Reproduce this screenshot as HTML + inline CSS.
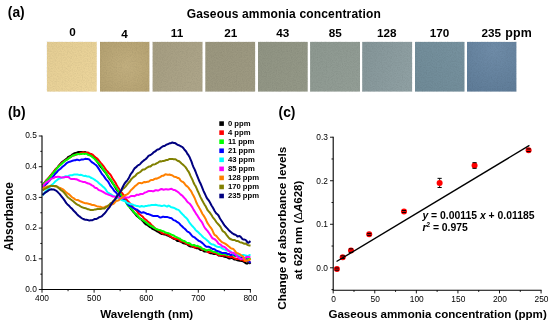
<!DOCTYPE html>
<html lang="en"><head><meta charset="utf-8"><title>Gaseous ammonia concentration figure</title>
<style>html,body{margin:0;padding:0;background:#fff}svg{display:block}text{font-family:"Liberation Sans", sans-serif;fill:#000}.b{font-weight:bold}.i{font-style:italic}</style></head><body>
<svg width="550" height="331" viewBox="0 0 550 331">
<rect width="550" height="331" fill="#fff"/>
<defs>
<filter id="grain" x="0" y="0" width="100%" height="100%" color-interpolation-filters="sRGB"><feTurbulence type="fractalNoise" baseFrequency="0.8" numOctaves="2" seed="11" result="n"/><feColorMatrix in="n" type="matrix" values="0 0 0 0 0  0 0 0 0 0  0 0 0 0 0  0.07 0.07 0.07 0 -0.088"/></filter>
<linearGradient id="g0" x1="0" y1="0" x2="1" y2="1"><stop offset="0" stop-color="rgb(228,205,147)"/><stop offset="1" stop-color="rgb(237,214,156)"/></linearGradient>
<radialGradient id="g1" cx="0.55" cy="0.5" r="0.75"><stop offset="0" stop-color="rgb(194,175,127)"/><stop offset="1" stop-color="rgb(179,160,112)"/></radialGradient>
<linearGradient id="g2" x1="0" y1="0" x2="1" y2="0.6"><stop offset="0" stop-color="rgb(165,157,129)"/><stop offset="1" stop-color="rgb(173,165,137)"/></linearGradient>
<linearGradient id="g3" x1="0" y1="0" x2="1" y2="1"><stop offset="0" stop-color="rgb(154,150,126)"/><stop offset="1" stop-color="rgb(158,154,130)"/></linearGradient>
<linearGradient id="g4" x1="0" y1="0" x2="1" y2="1"><stop offset="0" stop-color="rgb(144,148,131)"/><stop offset="1" stop-color="rgb(148,152,135)"/></linearGradient>
<linearGradient id="g5" x1="0" y1="0" x2="1" y2="1"><stop offset="0" stop-color="rgb(141,152,144)"/><stop offset="1" stop-color="rgb(147,158,150)"/></linearGradient>
<linearGradient id="g6" x1="0" y1="0.3" x2="1" y2="0.6"><stop offset="0" stop-color="rgb(133,150,153)"/><stop offset="1" stop-color="rgb(143,160,163)"/></linearGradient>
<linearGradient id="g7" x1="0" y1="1" x2="1" y2="0"><stop offset="0" stop-color="rgb(111,138,151)"/><stop offset="1" stop-color="rgb(119,146,159)"/></linearGradient>
<radialGradient id="g8" cx="0.55" cy="0.15" r="0.95"><stop offset="0" stop-color="rgb(111,140,168)"/><stop offset="1" stop-color="rgb(95,124,152)"/></radialGradient>
</defs>
<text class="b" x="7.8" y="17.0" font-size="13.8">(a)</text>
<text class="b" x="283.8" y="17.8" font-size="12" letter-spacing="0.17" text-anchor="middle">Gaseous ammonia concentration</text>
<rect x="46.95" y="41.9" width="49.8" height="49.7" fill="url(#g0)"/>
<rect x="46.95" y="41.9" width="49.8" height="49.7" fill="#000" filter="url(#grain)"/>
<text class="b" x="72.4" y="35.9" font-size="11.7" text-anchor="middle">0</text>
<rect x="100.0" y="41.9" width="49.4" height="49.7" fill="url(#g1)"/>
<rect x="100.0" y="41.9" width="49.4" height="49.7" fill="#000" filter="url(#grain)"/>
<text class="b" x="124.6" y="37.9" font-size="11.7" text-anchor="middle">4</text>
<rect x="152.6" y="41.9" width="49.9" height="49.7" fill="url(#g2)"/>
<rect x="152.6" y="41.9" width="49.9" height="49.7" fill="#000" filter="url(#grain)"/>
<text class="b" x="177.0" y="37.3" font-size="11.7" text-anchor="middle">11</text>
<rect x="205.3" y="41.9" width="49.8" height="49.7" fill="url(#g3)"/>
<rect x="205.3" y="41.9" width="49.8" height="49.7" fill="#000" filter="url(#grain)"/>
<text class="b" x="230.8" y="37.3" font-size="11.7" text-anchor="middle">21</text>
<rect x="258.0" y="41.9" width="49.7" height="49.7" fill="url(#g4)"/>
<rect x="258.0" y="41.9" width="49.7" height="49.7" fill="#000" filter="url(#grain)"/>
<text class="b" x="282.8" y="37.3" font-size="11.7" text-anchor="middle">43</text>
<rect x="310.1" y="41.9" width="49.9" height="49.7" fill="url(#g5)"/>
<rect x="310.1" y="41.9" width="49.9" height="49.7" fill="#000" filter="url(#grain)"/>
<text class="b" x="335.3" y="37.3" font-size="11.7" text-anchor="middle">85</text>
<rect x="362.2" y="41.9" width="49.9" height="49.7" fill="url(#g6)"/>
<rect x="362.2" y="41.9" width="49.9" height="49.7" fill="#000" filter="url(#grain)"/>
<text class="b" x="386.8" y="37.3" font-size="11.7" text-anchor="middle">128</text>
<rect x="415.0" y="41.9" width="49.5" height="49.7" fill="url(#g7)"/>
<rect x="415.0" y="41.9" width="49.5" height="49.7" fill="#000" filter="url(#grain)"/>
<text class="b" x="439.6" y="37.3" font-size="11.7" text-anchor="middle">170</text>
<rect x="467.0" y="41.9" width="49.4" height="49.7" fill="url(#g8)"/>
<rect x="467.0" y="41.9" width="49.4" height="49.7" fill="#000" filter="url(#grain)"/>
<text class="b" x="481.4" y="37.3" font-size="11.7">235 <tspan dx="1.03" font-size="12.4" letter-spacing="0.25">ppm</tspan></text>
<text class="b" x="8.0" y="116.8" font-size="13.8">(b)</text>
<path d="M42.5,185.4 L43.5,184.2 L44.5,182.9 L45.5,181.7 L46.5,180.5 L47.5,179.3 L48.5,178.3 L49.5,177.3 L50.5,175.9 L51.5,174.6 L52.5,173.5 L53.5,172.3 L54.5,170.9 L55.5,169.5 L56.5,168.4 L57.5,167.3 L58.5,166.0 L59.5,164.8 L60.5,163.7 L61.5,162.6 L62.5,161.8 L63.5,161.0 L64.5,160.3 L65.5,159.6 L66.5,158.9 L67.5,157.8 L68.5,156.8 L69.5,156.3 L70.5,155.9 L71.5,155.2 L72.5,154.4 L73.5,153.8 L74.5,153.2 L75.5,152.9 L76.5,152.8 L77.5,152.3 L78.5,152.1 L79.5,152.0 L80.5,151.9 L81.5,151.9 L82.5,152.0 L83.5,152.0 L84.5,151.9 L85.5,152.3 L86.5,152.7 L87.5,152.9 L88.5,153.6 L89.5,154.2 L90.5,154.8 L91.5,155.9 L92.5,156.5 L93.5,157.1 L94.5,158.2 L95.5,159.5 L96.5,160.7 L97.5,162.1 L98.5,163.5 L99.5,165.1 L100.5,166.5 L101.5,167.6 L102.5,168.8 L103.5,170.2 L104.5,171.5 L105.5,172.7 L106.5,174.1 L107.5,175.8 L108.5,177.5 L109.5,178.9 L110.5,180.0 L111.5,181.5 L112.5,183.2 L113.5,184.4 L114.5,186.0 L115.5,187.9 L116.5,189.5 L117.5,190.8 L118.5,191.8 L119.5,192.9 L120.5,194.4 L121.5,195.9 L122.5,197.0 L123.5,198.2 L124.5,199.7 L125.5,201.1 L126.5,202.3 L127.5,203.6 L128.5,205.1 L129.5,206.7 L130.5,208.4 L131.5,209.7 L132.5,210.8 L133.5,212.0 L134.5,213.2 L135.5,214.4 L136.5,215.6 L137.5,216.4 L138.5,217.3 L139.5,218.2 L140.5,218.8 L141.5,219.6 L142.5,220.8 L143.5,221.8 L144.5,223.1 L145.5,224.2 L146.5,224.5 L147.5,225.0 L148.5,226.0 L149.5,226.8 L150.5,227.3 L151.5,228.0 L152.5,228.9 L153.5,229.4 L154.5,229.7 L155.5,230.4 L156.5,231.0 L157.5,231.5 L158.5,232.1 L159.5,232.7 L160.5,233.4 L161.5,233.9 L162.5,234.1 L163.5,234.3 L164.5,234.5 L165.5,234.5 L166.5,235.1 L167.5,235.6 L168.5,235.9 L169.5,236.5 L170.5,236.9 L171.5,237.5 L172.5,238.1 L173.5,238.7 L174.5,239.0 L175.5,239.3 L176.5,240.3 L177.5,241.1 L178.5,241.1 L179.5,241.3 L180.5,241.6 L181.5,242.1 L182.5,242.8 L183.5,243.2 L184.5,243.4 L185.5,243.7 L186.5,244.0 L187.5,244.7 L188.5,245.6 L189.5,246.1 L190.5,246.5 L191.5,246.6 L192.5,246.7 L193.5,247.0 L194.5,247.4 L195.5,247.9 L196.5,248.2 L197.5,248.3 L198.5,248.4 L199.5,249.2 L200.5,250.1 L201.5,250.0 L202.5,250.1 L203.5,251.0 L204.5,251.5 L205.5,251.3 L206.5,251.5 L207.5,251.7 L208.5,252.0 L209.5,252.8 L210.5,253.3 L211.5,253.3 L212.5,253.5 L213.5,253.9 L214.5,254.1 L215.5,254.1 L216.5,254.1 L217.5,254.6 L218.5,255.4 L219.5,255.6 L220.5,255.7 L221.5,255.9 L222.5,256.0 L223.5,256.3 L224.5,256.8 L225.5,256.9 L226.5,257.1 L227.5,257.6 L228.5,258.2 L229.5,258.4 L230.5,258.3 L231.5,258.0 L232.5,258.1 L233.5,259.1 L234.5,259.6 L235.5,259.5 L236.5,259.8 L237.5,260.3 L238.5,260.6 L239.5,260.7 L240.5,260.8 L241.5,261.1 L242.5,261.1 L243.5,261.6 L244.5,262.3 L245.5,262.9 L246.5,263.6 L247.5,263.5 L248.5,262.6 L249.5,262.7 L250.5,263.8" fill="none" stroke="#000000" stroke-width="2.0" stroke-linejoin="round" stroke-linecap="butt"/>
<path d="M42.5,185.3 L43.5,184.1 L44.5,182.9 L45.5,181.4 L46.5,180.1 L47.5,179.2 L48.5,178.1 L49.5,176.9 L50.5,175.6 L51.5,174.3 L52.5,173.0 L53.5,171.9 L54.5,170.6 L55.5,169.5 L56.5,168.6 L57.5,167.6 L58.5,166.4 L59.5,165.3 L60.5,164.3 L61.5,163.4 L62.5,162.6 L63.5,161.8 L64.5,161.0 L65.5,160.3 L66.5,159.8 L67.5,159.1 L68.5,158.2 L69.5,157.6 L70.5,157.1 L71.5,156.4 L72.5,155.7 L73.5,155.4 L74.5,155.2 L75.5,154.8 L76.5,154.4 L77.5,154.2 L78.5,154.1 L79.5,153.6 L80.5,153.1 L81.5,152.9 L82.5,152.5 L83.5,152.2 L84.5,152.7 L85.5,153.1 L86.5,152.8 L87.5,152.5 L88.5,152.8 L89.5,153.4 L90.5,153.8 L91.5,154.0 L92.5,154.6 L93.5,155.5 L94.5,156.4 L95.5,157.3 L96.5,158.0 L97.5,158.8 L98.5,160.0 L99.5,161.3 L100.5,162.6 L101.5,163.7 L102.5,165.0 L103.5,166.2 L104.5,167.5 L105.5,169.2 L106.5,170.4 L107.5,171.4 L108.5,172.7 L109.5,173.7 L110.5,174.7 L111.5,176.4 L112.5,178.2 L113.5,179.7 L114.5,181.2 L115.5,182.8 L116.5,184.7 L117.5,186.5 L118.5,188.0 L119.5,189.5 L120.5,191.2 L121.5,192.4 L122.5,193.5 L123.5,195.0 L124.5,196.9 L125.5,198.5 L126.5,199.6 L127.5,200.7 L128.5,201.7 L129.5,202.8 L130.5,203.9 L131.5,205.1 L132.5,206.5 L133.5,207.9 L134.5,208.9 L135.5,209.7 L136.5,210.6 L137.5,211.9 L138.5,213.4 L139.5,214.3 L140.5,215.0 L141.5,215.7 L142.5,216.5 L143.5,217.7 L144.5,218.8 L145.5,219.5 L146.5,220.3 L147.5,221.3 L148.5,222.1 L149.5,222.8 L150.5,223.8 L151.5,224.9 L152.5,225.9 L153.5,226.7 L154.5,227.8 L155.5,228.8 L156.5,229.2 L157.5,229.7 L158.5,230.5 L159.5,231.1 L160.5,231.6 L161.5,232.6 L162.5,233.4 L163.5,233.4 L164.5,233.4 L165.5,233.8 L166.5,234.3 L167.5,234.5 L168.5,235.0 L169.5,235.9 L170.5,236.3 L171.5,237.1 L172.5,237.8 L173.5,238.0 L174.5,238.5 L175.5,239.1 L176.5,239.1 L177.5,239.0 L178.5,239.3 L179.5,240.3 L180.5,241.3 L181.5,241.6 L182.5,241.4 L183.5,241.6 L184.5,242.3 L185.5,243.0 L186.5,243.5 L187.5,244.0 L188.5,244.5 L189.5,244.7 L190.5,245.2 L191.5,245.6 L192.5,246.0 L193.5,246.7 L194.5,247.4 L195.5,247.5 L196.5,247.1 L197.5,247.2 L198.5,247.5 L199.5,247.5 L200.5,248.0 L201.5,249.2 L202.5,249.7 L203.5,249.5 L204.5,249.5 L205.5,249.9 L206.5,250.6 L207.5,251.7 L208.5,252.4 L209.5,252.2 L210.5,251.7 L211.5,251.9 L212.5,252.5 L213.5,252.8 L214.5,252.9 L215.5,253.3 L216.5,253.7 L217.5,254.5 L218.5,255.2 L219.5,255.2 L220.5,255.0 L221.5,255.2 L222.5,255.4 L223.5,255.4 L224.5,255.4 L225.5,255.2 L226.5,255.6 L227.5,256.4 L228.5,256.8 L229.5,257.1 L230.5,257.2 L231.5,256.8 L232.5,257.0 L233.5,257.9 L234.5,258.3 L235.5,258.5 L236.5,259.0 L237.5,259.0 L238.5,258.6 L239.5,259.0 L240.5,259.8 L241.5,259.8 L242.5,259.6 L243.5,260.4 L244.5,261.1 L245.5,261.1 L246.5,260.8 L247.5,260.5 L248.5,261.0 L249.5,261.9 L250.5,261.7" fill="none" stroke="#ff0000" stroke-width="2.0" stroke-linejoin="round" stroke-linecap="butt"/>
<path d="M42.5,185.6 L43.5,184.3 L44.5,183.0 L45.5,181.8 L46.5,180.8 L47.5,179.8 L48.5,178.7 L49.5,177.7 L50.5,176.5 L51.5,175.1 L52.5,173.9 L53.5,172.7 L54.5,171.5 L55.5,170.3 L56.5,169.0 L57.5,167.9 L58.5,166.7 L59.5,165.7 L60.5,165.0 L61.5,164.1 L62.5,163.0 L63.5,162.2 L64.5,161.3 L65.5,160.5 L66.5,159.9 L67.5,159.3 L68.5,158.6 L69.5,157.8 L70.5,157.2 L71.5,156.5 L72.5,155.8 L73.5,155.4 L74.5,155.0 L75.5,154.7 L76.5,154.4 L77.5,154.1 L78.5,154.1 L79.5,154.2 L80.5,154.1 L81.5,153.9 L82.5,153.7 L83.5,153.8 L84.5,153.9 L85.5,153.8 L86.5,153.8 L87.5,154.5 L88.5,155.0 L89.5,155.2 L90.5,155.6 L91.5,156.3 L92.5,157.1 L93.5,158.0 L94.5,158.8 L95.5,159.8 L96.5,161.0 L97.5,162.1 L98.5,163.2 L99.5,164.1 L100.5,165.0 L101.5,166.5 L102.5,168.3 L103.5,169.7 L104.5,170.9 L105.5,172.4 L106.5,173.9 L107.5,175.5 L108.5,177.0 L109.5,178.0 L110.5,179.1 L111.5,180.7 L112.5,182.4 L113.5,184.4 L114.5,186.0 L115.5,187.0 L116.5,188.2 L117.5,190.0 L118.5,191.3 L119.5,192.3 L120.5,193.9 L121.5,195.9 L122.5,197.6 L123.5,199.1 L124.5,200.3 L125.5,201.6 L126.5,203.2 L127.5,205.0 L128.5,206.3 L129.5,207.0 L130.5,207.8 L131.5,208.8 L132.5,210.2 L133.5,211.6 L134.5,212.7 L135.5,213.6 L136.5,214.4 L137.5,215.6 L138.5,216.8 L139.5,218.1 L140.5,219.1 L141.5,219.4 L142.5,219.8 L143.5,220.6 L144.5,221.3 L145.5,222.0 L146.5,222.7 L147.5,223.5 L148.5,224.4 L149.5,225.1 L150.5,225.7 L151.5,226.3 L152.5,226.7 L153.5,227.3 L154.5,228.0 L155.5,228.6 L156.5,229.2 L157.5,229.5 L158.5,229.7 L159.5,230.1 L160.5,230.3 L161.5,230.7 L162.5,231.0 L163.5,231.2 L164.5,231.9 L165.5,232.6 L166.5,232.8 L167.5,233.1 L168.5,233.3 L169.5,233.6 L170.5,234.1 L171.5,234.6 L172.5,235.0 L173.5,235.4 L174.5,236.1 L175.5,236.7 L176.5,237.1 L177.5,237.6 L178.5,238.1 L179.5,238.4 L180.5,239.2 L181.5,240.0 L182.5,240.5 L183.5,240.9 L184.5,241.1 L185.5,241.8 L186.5,242.5 L187.5,243.1 L188.5,243.1 L189.5,243.3 L190.5,244.1 L191.5,245.0 L192.5,245.3 L193.5,245.1 L194.5,245.1 L195.5,245.8 L196.5,245.9 L197.5,245.8 L198.5,246.4 L199.5,246.7 L200.5,247.0 L201.5,247.9 L202.5,248.8 L203.5,249.0 L204.5,249.5 L205.5,250.3 L206.5,250.5 L207.5,250.1 L208.5,249.8 L209.5,249.8 L210.5,250.2 L211.5,251.0 L212.5,251.4 L213.5,251.7 L214.5,252.0 L215.5,252.1 L216.5,252.5 L217.5,253.2 L218.5,253.7 L219.5,254.0 L220.5,254.0 L221.5,253.9 L222.5,254.0 L223.5,253.7 L224.5,253.8 L225.5,254.5 L226.5,254.9 L227.5,254.7 L228.5,254.4 L229.5,254.7 L230.5,254.9 L231.5,254.6 L232.5,254.5 L233.5,255.3 L234.5,256.1 L235.5,256.1 L236.5,255.9 L237.5,256.2 L238.5,256.1 L239.5,255.5 L240.5,256.1 L241.5,257.1 L242.5,257.6 L243.5,258.1 L244.5,258.1 L245.5,257.9 L246.5,258.1 L247.5,258.3 L248.5,258.3 L249.5,258.7 L250.5,259.3" fill="none" stroke="#00ff00" stroke-width="2.0" stroke-linejoin="round" stroke-linecap="butt"/>
<path d="M42.5,187.6 L43.5,186.5 L44.5,185.4 L45.5,184.6 L46.5,183.7 L47.5,182.7 L48.5,181.7 L49.5,180.5 L50.5,179.4 L51.5,178.4 L52.5,177.4 L53.5,176.2 L54.5,174.7 L55.5,173.5 L56.5,172.5 L57.5,171.3 L58.5,170.2 L59.5,169.5 L60.5,168.8 L61.5,167.7 L62.5,166.8 L63.5,166.0 L64.5,165.2 L65.5,164.3 L66.5,163.3 L67.5,162.6 L68.5,162.1 L69.5,161.7 L70.5,161.5 L71.5,161.1 L72.5,160.7 L73.5,160.4 L74.5,160.3 L75.5,160.2 L76.5,159.8 L77.5,159.7 L78.5,160.0 L79.5,160.2 L80.5,159.9 L81.5,159.5 L82.5,159.4 L83.5,159.4 L84.5,159.1 L85.5,158.8 L86.5,159.0 L87.5,159.1 L88.5,159.2 L89.5,159.7 L90.5,160.8 L91.5,161.9 L92.5,162.6 L93.5,163.2 L94.5,164.0 L95.5,164.7 L96.5,165.6 L97.5,166.9 L98.5,168.4 L99.5,170.0 L100.5,171.6 L101.5,173.3 L102.5,174.6 L103.5,175.7 L104.5,177.1 L105.5,178.6 L106.5,179.9 L107.5,180.9 L108.5,182.2 L109.5,184.1 L110.5,186.0 L111.5,187.2 L112.5,188.3 L113.5,189.8 L114.5,191.2 L115.5,192.0 L116.5,193.0 L117.5,194.3 L118.5,195.3 L119.5,196.0 L120.5,197.0 L121.5,198.3 L122.5,199.3 L123.5,199.9 L124.5,200.5 L125.5,201.2 L126.5,202.5 L127.5,203.8 L128.5,204.9 L129.5,205.8 L130.5,206.1 L131.5,206.6 L132.5,207.5 L133.5,208.1 L134.5,208.6 L135.5,209.2 L136.5,209.4 L137.5,209.9 L138.5,210.9 L139.5,211.6 L140.5,212.3 L141.5,212.8 L142.5,212.5 L143.5,212.3 L144.5,212.6 L145.5,213.1 L146.5,213.7 L147.5,214.0 L148.5,214.1 L149.5,214.5 L150.5,214.8 L151.5,215.3 L152.5,215.7 L153.5,215.9 L154.5,216.1 L155.5,216.1 L156.5,215.9 L157.5,215.9 L158.5,216.5 L159.5,217.3 L160.5,217.5 L161.5,217.3 L162.5,216.8 L163.5,216.7 L164.5,216.9 L165.5,217.0 L166.5,216.9 L167.5,217.1 L168.5,217.4 L169.5,217.7 L170.5,217.9 L171.5,218.2 L172.5,219.1 L173.5,220.1 L174.5,220.4 L175.5,220.7 L176.5,221.6 L177.5,222.2 L178.5,222.6 L179.5,223.6 L180.5,224.9 L181.5,225.8 L182.5,226.8 L183.5,227.8 L184.5,228.5 L185.5,229.4 L186.5,230.6 L187.5,231.6 L188.5,232.0 L189.5,232.7 L190.5,234.0 L191.5,235.2 L192.5,236.3 L193.5,236.9 L194.5,237.3 L195.5,238.2 L196.5,239.1 L197.5,239.8 L198.5,240.7 L199.5,241.1 L200.5,241.5 L201.5,242.4 L202.5,243.1 L203.5,244.1 L204.5,245.2 L205.5,246.1 L206.5,246.8 L207.5,246.8 L208.5,246.7 L209.5,247.2 L210.5,247.7 L211.5,248.3 L212.5,249.0 L213.5,249.1 L214.5,249.2 L215.5,250.1 L216.5,250.7 L217.5,251.0 L218.5,251.4 L219.5,251.8 L220.5,252.2 L221.5,252.7 L222.5,253.0 L223.5,253.1 L224.5,253.1 L225.5,252.9 L226.5,253.3 L227.5,253.9 L228.5,254.0 L229.5,254.3 L230.5,255.0 L231.5,255.0 L232.5,254.4 L233.5,254.4 L234.5,255.0 L235.5,255.4 L236.5,255.5 L237.5,255.7 L238.5,256.0 L239.5,256.3 L240.5,256.5 L241.5,257.1 L242.5,258.4 L243.5,259.1 L244.5,258.7 L245.5,258.8 L246.5,259.7 L247.5,260.6 L248.5,261.0 L249.5,261.8 L250.5,262.9" fill="none" stroke="#0000ff" stroke-width="2.0" stroke-linejoin="round" stroke-linecap="butt"/>
<path d="M42.5,195.3 L43.5,194.1 L44.5,193.0 L45.5,191.7 L46.5,190.6 L47.5,189.8 L48.5,188.8 L49.5,187.5 L50.5,186.2 L51.5,185.2 L52.5,184.4 L53.5,183.4 L54.5,182.3 L55.5,181.3 L56.5,180.5 L57.5,179.7 L58.5,178.9 L59.5,178.5 L60.5,178.3 L61.5,177.9 L62.5,177.4 L63.5,177.0 L64.5,176.7 L65.5,176.3 L66.5,176.3 L67.5,176.4 L68.5,176.0 L69.5,175.5 L70.5,175.3 L71.5,175.3 L72.5,175.2 L73.5,174.7 L74.5,174.4 L75.5,174.4 L76.5,174.5 L77.5,174.6 L78.5,174.8 L79.5,174.9 L80.5,174.8 L81.5,174.9 L82.5,175.4 L83.5,175.8 L84.5,175.9 L85.5,175.8 L86.5,176.2 L87.5,176.5 L88.5,176.5 L89.5,176.8 L90.5,177.5 L91.5,178.0 L92.5,178.4 L93.5,179.0 L94.5,179.6 L95.5,180.4 L96.5,181.0 L97.5,181.7 L98.5,182.8 L99.5,183.7 L100.5,184.4 L101.5,185.3 L102.5,186.3 L103.5,187.1 L104.5,188.0 L105.5,189.1 L106.5,190.7 L107.5,192.2 L108.5,193.0 L109.5,193.5 L110.5,194.1 L111.5,194.7 L112.5,195.4 L113.5,195.9 L114.5,196.2 L115.5,196.8 L116.5,197.5 L117.5,198.1 L118.5,198.4 L119.5,198.7 L120.5,199.4 L121.5,200.0 L122.5,200.4 L123.5,200.8 L124.5,200.9 L125.5,201.2 L126.5,202.2 L127.5,203.0 L128.5,203.3 L129.5,203.7 L130.5,204.2 L131.5,204.3 L132.5,204.4 L133.5,205.0 L134.5,205.4 L135.5,205.6 L136.5,206.0 L137.5,206.1 L138.5,206.2 L139.5,206.7 L140.5,206.5 L141.5,206.0 L142.5,206.2 L143.5,206.6 L144.5,206.4 L145.5,206.0 L146.5,205.9 L147.5,205.8 L148.5,205.5 L149.5,205.5 L150.5,205.3 L151.5,205.0 L152.5,205.0 L153.5,205.0 L154.5,205.0 L155.5,204.8 L156.5,205.0 L157.5,205.3 L158.5,205.4 L159.5,205.5 L160.5,205.7 L161.5,205.9 L162.5,205.9 L163.5,205.6 L164.5,205.5 L165.5,205.9 L166.5,206.4 L167.5,206.4 L168.5,205.6 L169.5,205.9 L170.5,206.8 L171.5,207.3 L172.5,207.5 L173.5,207.7 L174.5,208.2 L175.5,208.7 L176.5,209.3 L177.5,209.6 L178.5,209.9 L179.5,210.9 L180.5,212.1 L181.5,213.3 L182.5,214.3 L183.5,215.2 L184.5,216.4 L185.5,217.3 L186.5,218.2 L187.5,219.4 L188.5,221.0 L189.5,222.7 L190.5,224.0 L191.5,225.1 L192.5,226.3 L193.5,227.3 L194.5,228.4 L195.5,229.8 L196.5,230.9 L197.5,231.6 L198.5,232.5 L199.5,233.5 L200.5,234.4 L201.5,235.4 L202.5,236.6 L203.5,237.5 L204.5,238.2 L205.5,238.9 L206.5,239.9 L207.5,240.7 L208.5,241.6 L209.5,242.8 L210.5,243.6 L211.5,244.3 L212.5,244.6 L213.5,244.6 L214.5,245.1 L215.5,245.9 L216.5,246.5 L217.5,246.8 L218.5,246.9 L219.5,247.0 L220.5,247.4 L221.5,247.9 L222.5,248.6 L223.5,249.1 L224.5,249.4 L225.5,250.0 L226.5,250.4 L227.5,250.3 L228.5,250.4 L229.5,250.9 L230.5,251.3 L231.5,252.4 L232.5,253.4 L233.5,253.5 L234.5,253.6 L235.5,253.8 L236.5,254.2 L237.5,254.5 L238.5,254.8 L239.5,255.5 L240.5,255.9 L241.5,255.6 L242.5,255.1 L243.5,255.0 L244.5,255.3 L245.5,255.5 L246.5,255.7 L247.5,255.9 L248.5,255.8 L249.5,255.0 L250.5,255.0" fill="none" stroke="#00ffff" stroke-width="2.0" stroke-linejoin="round" stroke-linecap="butt"/>
<path d="M42.5,186.7 L43.5,185.4 L44.5,184.2 L45.5,183.1 L46.5,182.2 L47.5,181.7 L48.5,181.3 L49.5,180.4 L50.5,179.4 L51.5,178.7 L52.5,178.4 L53.5,178.1 L54.5,177.4 L55.5,177.0 L56.5,176.9 L57.5,176.8 L58.5,176.7 L59.5,176.9 L60.5,177.2 L61.5,177.4 L62.5,177.5 L63.5,177.6 L64.5,177.2 L65.5,176.9 L66.5,176.9 L67.5,176.9 L68.5,177.1 L69.5,178.0 L70.5,178.7 L71.5,178.9 L72.5,178.9 L73.5,179.0 L74.5,179.1 L75.5,179.3 L76.5,179.3 L77.5,179.7 L78.5,180.3 L79.5,180.7 L80.5,181.1 L81.5,181.4 L82.5,181.7 L83.5,181.9 L84.5,181.9 L85.5,182.3 L86.5,182.8 L87.5,183.2 L88.5,183.6 L89.5,183.8 L90.5,184.3 L91.5,185.1 L92.5,185.6 L93.5,186.2 L94.5,187.3 L95.5,187.9 L96.5,188.0 L97.5,188.8 L98.5,189.9 L99.5,190.3 L100.5,190.6 L101.5,191.1 L102.5,191.6 L103.5,192.2 L104.5,192.8 L105.5,193.5 L106.5,193.9 L107.5,194.2 L108.5,194.6 L109.5,195.1 L110.5,195.4 L111.5,195.9 L112.5,196.4 L113.5,196.6 L114.5,196.7 L115.5,196.8 L116.5,197.0 L117.5,197.1 L118.5,197.4 L119.5,197.7 L120.5,197.9 L121.5,198.2 L122.5,198.1 L123.5,197.7 L124.5,197.6 L125.5,197.6 L126.5,197.6 L127.5,197.6 L128.5,197.6 L129.5,197.0 L130.5,196.3 L131.5,196.1 L132.5,195.9 L133.5,196.0 L134.5,196.2 L135.5,195.7 L136.5,194.8 L137.5,194.7 L138.5,194.9 L139.5,194.5 L140.5,194.0 L141.5,194.1 L142.5,194.1 L143.5,193.5 L144.5,192.8 L145.5,192.4 L146.5,192.1 L147.5,191.5 L148.5,191.1 L149.5,191.1 L150.5,190.9 L151.5,190.9 L152.5,191.2 L153.5,191.3 L154.5,190.7 L155.5,190.3 L156.5,190.3 L157.5,190.5 L158.5,190.4 L159.5,189.9 L160.5,189.3 L161.5,189.1 L162.5,189.3 L163.5,189.7 L164.5,189.5 L165.5,189.2 L166.5,189.2 L167.5,189.5 L168.5,189.5 L169.5,189.3 L170.5,189.0 L171.5,188.8 L172.5,189.4 L173.5,190.0 L174.5,189.9 L175.5,190.4 L176.5,191.2 L177.5,191.7 L178.5,192.4 L179.5,193.4 L180.5,194.4 L181.5,195.1 L182.5,195.8 L183.5,197.0 L184.5,198.1 L185.5,199.2 L186.5,200.6 L187.5,201.9 L188.5,202.8 L189.5,203.5 L190.5,204.7 L191.5,206.1 L192.5,207.6 L193.5,209.6 L194.5,211.1 L195.5,212.7 L196.5,214.4 L197.5,215.7 L198.5,217.4 L199.5,219.0 L200.5,220.3 L201.5,221.6 L202.5,223.3 L203.5,225.4 L204.5,227.3 L205.5,228.8 L206.5,229.8 L207.5,230.9 L208.5,232.3 L209.5,233.8 L210.5,235.3 L211.5,236.9 L212.5,238.3 L213.5,238.7 L214.5,239.1 L215.5,239.9 L216.5,240.8 L217.5,242.1 L218.5,243.7 L219.5,244.2 L220.5,244.4 L221.5,245.6 L222.5,246.5 L223.5,246.6 L224.5,247.0 L225.5,247.8 L226.5,248.8 L227.5,249.8 L228.5,250.8 L229.5,251.5 L230.5,252.2 L231.5,252.8 L232.5,252.8 L233.5,252.8 L234.5,253.6 L235.5,254.6 L236.5,255.5 L237.5,256.8 L238.5,257.5 L239.5,258.2 L240.5,259.0 L241.5,258.9 L242.5,258.6 L243.5,258.7 L244.5,258.6 L245.5,257.7 L246.5,256.8 L247.5,256.9 L248.5,257.1 L249.5,257.1 L250.5,257.4" fill="none" stroke="#ff00ff" stroke-width="2.0" stroke-linejoin="round" stroke-linecap="butt"/>
<path d="M42.5,188.6 L43.5,188.0 L44.5,187.5 L45.5,187.4 L46.5,186.8 L47.5,186.4 L48.5,186.4 L49.5,186.3 L50.5,186.1 L51.5,186.1 L52.5,185.9 L53.5,185.9 L54.5,186.2 L55.5,186.4 L56.5,186.6 L57.5,186.8 L58.5,187.3 L59.5,187.9 L60.5,188.1 L61.5,188.6 L62.5,189.1 L63.5,189.6 L64.5,190.6 L65.5,191.6 L66.5,192.6 L67.5,193.3 L68.5,193.9 L69.5,194.7 L70.5,195.7 L71.5,196.7 L72.5,197.5 L73.5,198.1 L74.5,198.9 L75.5,199.6 L76.5,199.9 L77.5,200.0 L78.5,200.3 L79.5,200.9 L80.5,201.5 L81.5,201.8 L82.5,202.2 L83.5,202.6 L84.5,203.0 L85.5,203.2 L86.5,203.2 L87.5,203.4 L88.5,203.8 L89.5,204.0 L90.5,204.3 L91.5,204.7 L92.5,205.1 L93.5,205.1 L94.5,205.3 L95.5,205.6 L96.5,206.1 L97.5,206.4 L98.5,206.6 L99.5,206.7 L100.5,206.8 L101.5,207.2 L102.5,207.4 L103.5,207.5 L104.5,207.2 L105.5,206.6 L106.5,206.5 L107.5,206.7 L108.5,206.5 L109.5,205.9 L110.5,205.1 L111.5,204.5 L112.5,204.3 L113.5,203.9 L114.5,202.8 L115.5,201.6 L116.5,200.8 L117.5,200.7 L118.5,200.4 L119.5,199.5 L120.5,198.6 L121.5,197.7 L122.5,196.9 L123.5,196.4 L124.5,195.5 L125.5,194.9 L126.5,194.7 L127.5,194.2 L128.5,193.3 L129.5,192.2 L130.5,190.7 L131.5,189.6 L132.5,188.8 L133.5,187.8 L134.5,186.6 L135.5,185.8 L136.5,185.1 L137.5,184.1 L138.5,183.3 L139.5,182.9 L140.5,183.0 L141.5,183.2 L142.5,183.0 L143.5,182.2 L144.5,182.0 L145.5,182.2 L146.5,181.9 L147.5,181.7 L148.5,181.7 L149.5,181.1 L150.5,180.2 L151.5,180.0 L152.5,180.0 L153.5,179.7 L154.5,178.9 L155.5,178.6 L156.5,178.7 L157.5,178.3 L158.5,177.8 L159.5,177.5 L160.5,176.9 L161.5,176.0 L162.5,175.8 L163.5,175.7 L164.5,174.9 L165.5,174.2 L166.5,174.4 L167.5,174.8 L168.5,174.7 L169.5,174.5 L170.5,175.0 L171.5,175.1 L172.5,175.5 L173.5,176.3 L174.5,176.8 L175.5,176.9 L176.5,177.2 L177.5,177.9 L178.5,178.1 L179.5,178.7 L180.5,180.4 L181.5,181.4 L182.5,181.7 L183.5,182.3 L184.5,183.5 L185.5,185.0 L186.5,185.9 L187.5,186.6 L188.5,187.7 L189.5,189.1 L190.5,190.3 L191.5,191.9 L192.5,194.0 L193.5,195.8 L194.5,197.7 L195.5,200.1 L196.5,202.8 L197.5,204.7 L198.5,206.4 L199.5,208.3 L200.5,210.0 L201.5,212.0 L202.5,214.0 L203.5,215.4 L204.5,216.9 L205.5,218.7 L206.5,221.0 L207.5,223.1 L208.5,224.5 L209.5,226.0 L210.5,227.3 L211.5,228.6 L212.5,230.5 L213.5,233.0 L214.5,234.8 L215.5,235.4 L216.5,236.1 L217.5,237.4 L218.5,238.6 L219.5,239.8 L220.5,240.8 L221.5,241.7 L222.5,242.4 L223.5,242.9 L224.5,243.3 L225.5,243.9 L226.5,244.6 L227.5,245.4 L228.5,246.2 L229.5,247.0 L230.5,248.0 L231.5,248.6 L232.5,248.7 L233.5,249.2 L234.5,250.3 L235.5,251.7 L236.5,252.9 L237.5,253.2 L238.5,253.7 L239.5,254.2 L240.5,254.7 L241.5,255.7 L242.5,256.0 L243.5,257.2 L244.5,259.9 L245.5,260.7 L246.5,260.3 L247.5,260.4 L248.5,260.4 L249.5,259.8 L250.5,258.8" fill="none" stroke="#ff8000" stroke-width="2.0" stroke-linejoin="round" stroke-linecap="butt"/>
<path d="M42.5,190.4 L43.5,189.8 L44.5,189.2 L45.5,188.6 L46.5,188.1 L47.5,187.6 L48.5,186.9 L49.5,186.3 L50.5,185.8 L51.5,185.8 L52.5,186.0 L53.5,186.0 L54.5,186.0 L55.5,186.0 L56.5,186.2 L57.5,187.0 L58.5,188.0 L59.5,188.8 L60.5,189.8 L61.5,190.5 L62.5,191.1 L63.5,192.0 L64.5,193.1 L65.5,194.3 L66.5,195.7 L67.5,196.9 L68.5,197.8 L69.5,198.5 L70.5,199.3 L71.5,200.0 L72.5,200.7 L73.5,201.5 L74.5,202.4 L75.5,203.3 L76.5,204.1 L77.5,204.7 L78.5,205.1 L79.5,205.7 L80.5,206.4 L81.5,207.0 L82.5,207.4 L83.5,207.8 L84.5,208.0 L85.5,208.2 L86.5,208.7 L87.5,209.2 L88.5,209.2 L89.5,209.6 L90.5,210.0 L91.5,209.9 L92.5,209.9 L93.5,209.9 L94.5,209.6 L95.5,209.5 L96.5,209.3 L97.5,209.1 L98.5,209.1 L99.5,209.1 L100.5,209.1 L101.5,208.7 L102.5,208.5 L103.5,208.6 L104.5,208.4 L105.5,207.6 L106.5,206.7 L107.5,206.0 L108.5,205.4 L109.5,204.4 L110.5,203.3 L111.5,203.0 L112.5,202.3 L113.5,200.8 L114.5,199.8 L115.5,198.8 L116.5,197.5 L117.5,196.0 L118.5,194.1 L119.5,192.7 L120.5,191.8 L121.5,190.5 L122.5,189.4 L123.5,188.4 L124.5,187.6 L125.5,186.6 L126.5,185.3 L127.5,184.0 L128.5,182.8 L129.5,181.8 L130.5,180.4 L131.5,178.9 L132.5,178.0 L133.5,177.1 L134.5,176.4 L135.5,175.7 L136.5,174.3 L137.5,173.4 L138.5,173.0 L139.5,172.4 L140.5,171.7 L141.5,170.8 L142.5,169.8 L143.5,169.5 L144.5,169.4 L145.5,168.8 L146.5,168.0 L147.5,167.4 L148.5,166.8 L149.5,166.5 L150.5,166.4 L151.5,165.6 L152.5,164.7 L153.5,164.4 L154.5,164.4 L155.5,164.1 L156.5,163.3 L157.5,162.8 L158.5,162.3 L159.5,161.5 L160.5,161.3 L161.5,161.4 L162.5,161.1 L163.5,160.9 L164.5,160.8 L165.5,160.3 L166.5,160.1 L167.5,160.1 L168.5,159.5 L169.5,158.9 L170.5,159.0 L171.5,159.0 L172.5,158.9 L173.5,159.2 L174.5,159.2 L175.5,159.2 L176.5,160.0 L177.5,160.7 L178.5,161.0 L179.5,161.5 L180.5,162.4 L181.5,163.5 L182.5,164.3 L183.5,165.1 L184.5,166.1 L185.5,167.1 L186.5,168.6 L187.5,170.3 L188.5,171.5 L189.5,173.5 L190.5,175.9 L191.5,177.9 L192.5,179.9 L193.5,182.5 L194.5,184.5 L195.5,186.0 L196.5,188.1 L197.5,190.5 L198.5,192.7 L199.5,194.9 L200.5,197.1 L201.5,199.1 L202.5,200.9 L203.5,202.8 L204.5,204.6 L205.5,206.0 L206.5,208.0 L207.5,210.0 L208.5,211.2 L209.5,212.2 L210.5,213.6 L211.5,215.0 L212.5,216.8 L213.5,218.3 L214.5,219.2 L215.5,220.7 L216.5,222.3 L217.5,223.4 L218.5,224.5 L219.5,225.6 L220.5,226.9 L221.5,228.9 L222.5,230.8 L223.5,231.6 L224.5,232.2 L225.5,233.4 L226.5,234.8 L227.5,236.1 L228.5,237.4 L229.5,238.5 L230.5,239.0 L231.5,239.5 L232.5,239.9 L233.5,239.9 L234.5,239.9 L235.5,240.5 L236.5,241.1 L237.5,241.0 L238.5,241.2 L239.5,242.1 L240.5,242.4 L241.5,242.5 L242.5,242.9 L243.5,243.5 L244.5,243.7 L245.5,243.6 L246.5,244.0 L247.5,244.9 L248.5,245.3 L249.5,245.4 L250.5,245.7" fill="none" stroke="#808000" stroke-width="2.0" stroke-linejoin="round" stroke-linecap="butt"/>
<path d="M42.5,194.9 L43.5,194.0 L44.5,193.2 L45.5,192.4 L46.5,191.8 L47.5,191.2 L48.5,190.4 L49.5,189.9 L50.5,189.5 L51.5,189.3 L52.5,189.4 L53.5,189.6 L54.5,189.8 L55.5,190.3 L56.5,191.0 L57.5,191.8 L58.5,192.9 L59.5,193.9 L60.5,195.2 L61.5,196.5 L62.5,197.6 L63.5,198.9 L64.5,200.3 L65.5,201.9 L66.5,203.3 L67.5,204.4 L68.5,205.3 L69.5,206.3 L70.5,207.4 L71.5,208.3 L72.5,209.3 L73.5,210.5 L74.5,211.6 L75.5,212.5 L76.5,213.7 L77.5,214.8 L78.5,215.7 L79.5,216.4 L80.5,217.2 L81.5,218.0 L82.5,218.6 L83.5,219.0 L84.5,219.5 L85.5,219.7 L86.5,219.8 L87.5,219.9 L88.5,220.2 L89.5,220.4 L90.5,220.3 L91.5,220.3 L92.5,220.2 L93.5,219.7 L94.5,219.1 L95.5,219.0 L96.5,218.9 L97.5,218.4 L98.5,217.7 L99.5,217.1 L100.5,216.8 L101.5,216.4 L102.5,215.5 L103.5,214.4 L104.5,213.5 L105.5,212.4 L106.5,211.0 L107.5,209.5 L108.5,208.4 L109.5,207.3 L110.5,205.6 L111.5,203.8 L112.5,202.4 L113.5,201.1 L114.5,200.1 L115.5,198.9 L116.5,196.9 L117.5,195.3 L118.5,194.5 L119.5,193.3 L120.5,191.6 L121.5,189.7 L122.5,187.5 L123.5,185.5 L124.5,183.7 L125.5,182.3 L126.5,181.3 L127.5,180.0 L128.5,178.6 L129.5,176.6 L130.5,174.5 L131.5,173.1 L132.5,171.9 L133.5,170.1 L134.5,168.4 L135.5,167.6 L136.5,166.9 L137.5,165.7 L138.5,165.0 L139.5,164.6 L140.5,163.6 L141.5,162.4 L142.5,161.5 L143.5,160.7 L144.5,159.9 L145.5,159.2 L146.5,158.4 L147.5,157.2 L148.5,155.9 L149.5,155.4 L150.5,155.0 L151.5,154.3 L152.5,153.5 L153.5,152.4 L154.5,151.7 L155.5,151.3 L156.5,150.3 L157.5,149.5 L158.5,149.5 L159.5,148.9 L160.5,148.0 L161.5,147.2 L162.5,146.5 L163.5,146.1 L164.5,145.9 L165.5,145.3 L166.5,144.6 L167.5,144.3 L168.5,143.8 L169.5,143.3 L170.5,143.3 L171.5,142.8 L172.5,142.5 L173.5,142.9 L174.5,143.0 L175.5,143.3 L176.5,144.1 L177.5,144.7 L178.5,145.1 L179.5,145.5 L180.5,146.1 L181.5,146.7 L182.5,147.2 L183.5,148.2 L184.5,149.7 L185.5,150.7 L186.5,152.1 L187.5,154.0 L188.5,155.2 L189.5,156.9 L190.5,159.3 L191.5,161.7 L192.5,164.6 L193.5,167.2 L194.5,169.1 L195.5,171.5 L196.5,174.2 L197.5,176.7 L198.5,179.1 L199.5,181.5 L200.5,183.5 L201.5,185.9 L202.5,188.4 L203.5,190.8 L204.5,193.0 L205.5,195.2 L206.5,197.4 L207.5,199.0 L208.5,200.2 L209.5,201.6 L210.5,203.5 L211.5,205.5 L212.5,207.0 L213.5,208.8 L214.5,210.7 L215.5,212.3 L216.5,213.6 L217.5,214.3 L218.5,215.5 L219.5,217.5 L220.5,219.3 L221.5,220.8 L222.5,222.3 L223.5,223.9 L224.5,225.3 L225.5,226.5 L226.5,227.6 L227.5,228.7 L228.5,229.8 L229.5,230.9 L230.5,231.7 L231.5,232.5 L232.5,233.4 L233.5,234.0 L234.5,234.5 L235.5,234.8 L236.5,235.5 L237.5,236.5 L238.5,236.3 L239.5,236.1 L240.5,236.7 L241.5,237.9 L242.5,239.1 L243.5,239.5 L244.5,239.6 L245.5,239.9 L246.5,240.9 L247.5,242.5 L248.5,242.7 L249.5,241.9 L250.5,241.1" fill="none" stroke="#000080" stroke-width="2.0" stroke-linejoin="round" stroke-linecap="butt"/>
<path d="M42.0,135.5 V289.5 H250.9" fill="none" stroke="#000" stroke-width="1.1"/>
<text x="36.8" y="291.70" font-size="8.4" text-anchor="end">0.0</text>
<text x="36.8" y="261.00" font-size="8.4" text-anchor="end">0.1</text>
<text x="36.8" y="230.30" font-size="8.4" text-anchor="end">0.2</text>
<text x="36.8" y="199.60" font-size="8.4" text-anchor="end">0.3</text>
<text x="36.8" y="168.90" font-size="8.4" text-anchor="end">0.4</text>
<text x="36.8" y="138.20" font-size="8.4" text-anchor="end">0.5</text>
<text x="42.00" y="301.40" font-size="8.4" text-anchor="middle">400</text>
<text x="94.10" y="301.40" font-size="8.4" text-anchor="middle">500</text>
<text x="146.20" y="301.40" font-size="8.4" text-anchor="middle">600</text>
<text x="198.30" y="301.40" font-size="8.4" text-anchor="middle">700</text>
<text x="250.40" y="301.40" font-size="8.4" text-anchor="middle">800</text>
<path d="M38.8,289.50 H42.0 M38.8,258.80 H42.0 M38.8,228.10 H42.0 M38.8,197.40 H42.0 M38.8,166.70 H42.0 M38.8,136.00 H42.0 M40.3,274.15 H42.0 M40.3,243.45 H42.0 M40.3,212.75 H42.0 M40.3,182.05 H42.0 M40.3,151.35 H42.0 M42.00,289.5 V292.7 M94.10,289.5 V292.7 M146.20,289.5 V292.7 M198.30,289.5 V292.7 M250.40,289.5 V292.7 M68.05,289.5 V291.2 M120.15,289.5 V291.2 M172.25,289.5 V291.2 M224.35,289.5 V291.2" fill="none" stroke="#000" stroke-width="0.9"/>
<text class="b" x="146.7" y="318.25" font-size="11.6" text-anchor="middle">Wavelength (nm)</text>
<text class="b" transform="translate(12.8,216.5) rotate(-90)" font-size="11.85" text-anchor="middle">Absorbance</text>
<rect x="219.3" y="121.30" width="4.6" height="4.6" fill="#000000"/>
<text class="b" x="227.9" y="126.00" font-size="7.7">0 ppm</text>
<rect x="219.3" y="130.35" width="4.6" height="4.6" fill="#ff0000"/>
<text class="b" x="227.9" y="135.05" font-size="7.7">4 ppm</text>
<rect x="219.3" y="139.40" width="4.6" height="4.6" fill="#00ff00"/>
<text class="b" x="227.9" y="144.10" font-size="7.7">11 ppm</text>
<rect x="219.3" y="148.45" width="4.6" height="4.6" fill="#0000ff"/>
<text class="b" x="227.9" y="153.15" font-size="7.7">21 ppm</text>
<rect x="219.3" y="157.50" width="4.6" height="4.6" fill="#00ffff"/>
<text class="b" x="227.9" y="162.20" font-size="7.7">43 ppm</text>
<rect x="219.3" y="166.55" width="4.6" height="4.6" fill="#ff00ff"/>
<text class="b" x="227.9" y="171.25" font-size="7.7">85 ppm</text>
<rect x="219.3" y="175.60" width="4.6" height="4.6" fill="#ff8000"/>
<text class="b" x="227.9" y="180.30" font-size="7.7">128 ppm</text>
<rect x="219.3" y="184.65" width="4.6" height="4.6" fill="#808000"/>
<text class="b" x="227.9" y="189.35" font-size="7.7">170 ppm</text>
<rect x="219.3" y="193.70" width="4.6" height="4.6" fill="#000080"/>
<text class="b" x="227.9" y="198.40" font-size="7.7">235 ppm</text>
<text class="b" x="278.6" y="116.8" font-size="13.8">(c)</text>
<path d="M333.2,136.71 V290.2 H541.58" fill="none" stroke="#000" stroke-width="1.1"/>
<text x="328.0" y="270.60" font-size="8.4" text-anchor="end">0.0</text>
<text x="328.0" y="227.07" font-size="8.4" text-anchor="end">0.1</text>
<text x="328.0" y="183.54" font-size="8.4" text-anchor="end">0.2</text>
<text x="328.0" y="140.01" font-size="8.4" text-anchor="end">0.3</text>
<text x="333.60" y="301.50" font-size="8.4" text-anchor="middle">0</text>
<text x="375.17" y="301.50" font-size="8.4" text-anchor="middle">50</text>
<text x="416.75" y="301.50" font-size="8.4" text-anchor="middle">100</text>
<text x="458.32" y="301.50" font-size="8.4" text-anchor="middle">150</text>
<text x="499.90" y="301.50" font-size="8.4" text-anchor="middle">200</text>
<text x="541.48" y="301.50" font-size="8.4" text-anchor="middle">250</text>
<path d="M330.0,267.80 H333.2 M330.0,224.27 H333.2 M330.0,180.74 H333.2 M330.0,137.21 H333.2 M331.5,289.56 H333.2 M331.5,246.04 H333.2 M331.5,202.50 H333.2 M331.5,158.98 H333.2 M333.20,290.2 V293.4 M374.77,290.2 V293.4 M416.35,290.2 V293.4 M457.93,290.2 V293.4 M499.50,290.2 V293.4 M541.08,290.2 V293.4 M353.99,290.2 V291.9 M395.56,290.2 V291.9 M437.14,290.2 V291.9 M478.71,290.2 V291.9 M520.29,290.2 V291.9" fill="none" stroke="#000" stroke-width="0.9"/>
<path d="M336.91,268.02 V270.19 M342.71,255.83 V258.44 M350.99,248.86 V252.35 M369.21,233.41 V235.33 M403.99,210.51 V212.43 M439.63,178.35 V187.49 M474.55,162.68 V168.33 M528.60,148.96 V151.57" fill="none" stroke="#000" stroke-width="0.9"/>
<circle cx="336.91" cy="269.11" r="3.0" fill="#ff0000"/>
<circle cx="342.71" cy="257.14" r="3.0" fill="#ff0000"/>
<circle cx="350.99" cy="250.61" r="3.0" fill="#ff0000"/>
<circle cx="369.21" cy="234.37" r="3.0" fill="#ff0000"/>
<circle cx="403.99" cy="211.47" r="3.0" fill="#ff0000"/>
<circle cx="439.63" cy="182.92" r="3.0" fill="#ff0000"/>
<circle cx="474.55" cy="165.50" r="3.0" fill="#ff0000"/>
<circle cx="528.60" cy="150.27" r="3.0" fill="#ff0000"/>
<path d="M334.81,268.02 h4.2 M334.81,270.19 h4.2 M340.61,255.83 h4.2 M340.61,258.44 h4.2 M348.89,248.86 h4.2 M348.89,252.35 h4.2 M367.11,233.41 h4.2 M367.11,235.33 h4.2 M401.89,210.51 h4.2 M401.89,212.43 h4.2 M437.53,178.35 h4.2 M437.53,187.49 h4.2 M472.45,162.68 h4.2 M472.45,168.33 h4.2 M526.50,148.96 h4.2 M526.50,151.57 h4.2" fill="none" stroke="#000" stroke-width="1"/>
<path d="M336.53,261.54 L529.43,145.40" stroke="#000" stroke-width="1.35" fill="none"/>
<text class="b" x="422.4" y="219.0" font-size="10.4"><tspan class="i">y</tspan> = 0.00115 <tspan class="i">x</tspan> + 0.01185</text>
<text class="b" x="422.4" y="230.6" font-size="10.4"><tspan class="i">r</tspan><tspan font-size="6.4" dy="-3.8">2</tspan><tspan dy="3.8"> = 0.975</tspan></text>
<text class="b" x="437.6" y="318.3" font-size="11.6" text-anchor="middle">Gaseous ammonia concentration (ppm)</text>
<text class="b" transform="translate(286.4,228.2) rotate(-90)" font-size="11.8" text-anchor="middle">Change of absorbance levels</text>
<text class="b" transform="translate(302.0,230.2) rotate(-90)" font-size="11.5" text-anchor="middle">at 628 nm (<tspan font-weight="normal">&#916;</tspan><tspan class="i">A</tspan>628)</text>
</svg></body></html>
